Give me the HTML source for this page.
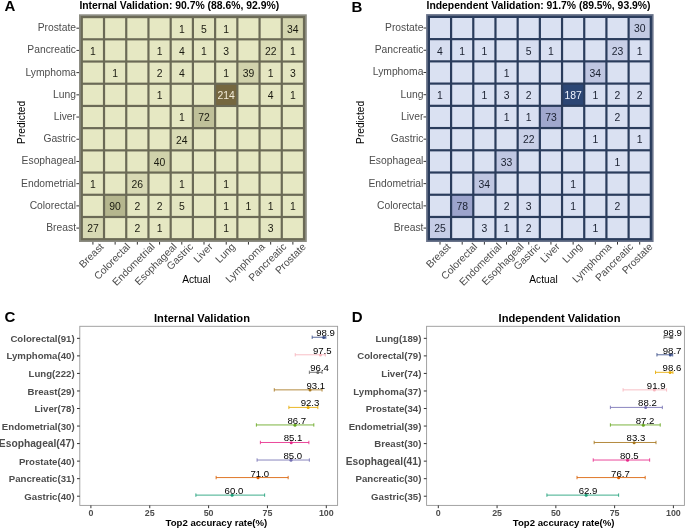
<!DOCTYPE html>
<html lang="en"><head><meta charset="utf-8"><title>Validation figure</title>
<style>
html,body{margin:0;padding:0;background:#fff;}
body{width:685px;height:528px;overflow:hidden;}
svg{display:block;font-family:'Liberation Sans', Arial, Helvetica, sans-serif;}
</style></head><body>
<svg width="685" height="528" viewBox="0 0 685 528">
<rect width="685" height="528" fill="#fff"/>
<rect x="79.0" y="14.3" width="227.80" height="227.70" fill="#8c8c82"/>
<rect x="80.70" y="16.00" width="224.40" height="224.30" fill="#6b6a56"/>
<rect x="82.90" y="18.20" width="20.02" height="20.01" fill="#e6e8c3"/>
<rect x="105.12" y="18.20" width="20.02" height="20.01" fill="#e6e8c3"/>
<rect x="127.34" y="18.20" width="20.02" height="20.01" fill="#e6e8c3"/>
<rect x="149.56" y="18.20" width="20.02" height="20.01" fill="#e6e8c3"/>
<rect x="171.78" y="18.20" width="20.02" height="20.01" fill="#e5e7c2"/>
<text x="181.79" y="32.50" font-size="10.4" text-anchor="middle" fill="#1a1a10">1</text>
<rect x="194.00" y="18.20" width="20.02" height="20.01" fill="#e3e5c0"/>
<text x="204.01" y="32.50" font-size="10.4" text-anchor="middle" fill="#1a1a10">5</text>
<rect x="216.22" y="18.20" width="20.02" height="20.01" fill="#e5e7c2"/>
<text x="226.23" y="32.50" font-size="10.4" text-anchor="middle" fill="#1a1a10">1</text>
<rect x="238.44" y="18.20" width="20.02" height="20.01" fill="#e6e8c3"/>
<rect x="260.66" y="18.20" width="20.02" height="20.01" fill="#e6e8c3"/>
<rect x="282.88" y="18.20" width="20.02" height="20.01" fill="#d4d5af"/>
<text x="292.89" y="32.50" font-size="10.4" text-anchor="middle" fill="#1a1a10">34</text>
<rect x="82.90" y="40.41" width="20.02" height="20.01" fill="#e5e7c2"/>
<text x="92.91" y="54.71" font-size="10.4" text-anchor="middle" fill="#1a1a10">1</text>
<rect x="105.12" y="40.41" width="20.02" height="20.01" fill="#e6e8c3"/>
<rect x="127.34" y="40.41" width="20.02" height="20.01" fill="#e6e8c3"/>
<rect x="149.56" y="40.41" width="20.02" height="20.01" fill="#e5e7c2"/>
<text x="159.57" y="54.71" font-size="10.4" text-anchor="middle" fill="#1a1a10">1</text>
<rect x="171.78" y="40.41" width="20.02" height="20.01" fill="#e4e6c1"/>
<text x="181.79" y="54.71" font-size="10.4" text-anchor="middle" fill="#1a1a10">4</text>
<rect x="194.00" y="40.41" width="20.02" height="20.01" fill="#e5e7c2"/>
<text x="204.01" y="54.71" font-size="10.4" text-anchor="middle" fill="#1a1a10">1</text>
<rect x="216.22" y="40.41" width="20.02" height="20.01" fill="#e4e6c1"/>
<text x="226.23" y="54.71" font-size="10.4" text-anchor="middle" fill="#1a1a10">3</text>
<rect x="238.44" y="40.41" width="20.02" height="20.01" fill="#e6e8c3"/>
<rect x="260.66" y="40.41" width="20.02" height="20.01" fill="#dadcb6"/>
<text x="270.67" y="54.71" font-size="10.4" text-anchor="middle" fill="#1a1a10">22</text>
<rect x="282.88" y="40.41" width="20.02" height="20.01" fill="#e5e7c2"/>
<text x="292.89" y="54.71" font-size="10.4" text-anchor="middle" fill="#1a1a10">1</text>
<rect x="82.90" y="62.62" width="20.02" height="20.01" fill="#e6e8c3"/>
<rect x="105.12" y="62.62" width="20.02" height="20.01" fill="#e5e7c2"/>
<text x="115.13" y="76.92" font-size="10.4" text-anchor="middle" fill="#1a1a10">1</text>
<rect x="127.34" y="62.62" width="20.02" height="20.01" fill="#e6e8c3"/>
<rect x="149.56" y="62.62" width="20.02" height="20.01" fill="#e5e7c2"/>
<text x="159.57" y="76.92" font-size="10.4" text-anchor="middle" fill="#1a1a10">2</text>
<rect x="171.78" y="62.62" width="20.02" height="20.01" fill="#e4e6c1"/>
<text x="181.79" y="76.92" font-size="10.4" text-anchor="middle" fill="#1a1a10">4</text>
<rect x="194.00" y="62.62" width="20.02" height="20.01" fill="#e6e8c3"/>
<rect x="216.22" y="62.62" width="20.02" height="20.01" fill="#e5e7c2"/>
<text x="226.23" y="76.92" font-size="10.4" text-anchor="middle" fill="#1a1a10">1</text>
<rect x="238.44" y="62.62" width="20.02" height="20.01" fill="#d1d2ac"/>
<text x="248.45" y="76.92" font-size="10.4" text-anchor="middle" fill="#1a1a10">39</text>
<rect x="260.66" y="62.62" width="20.02" height="20.01" fill="#e5e7c2"/>
<text x="270.67" y="76.92" font-size="10.4" text-anchor="middle" fill="#1a1a10">1</text>
<rect x="282.88" y="62.62" width="20.02" height="20.01" fill="#e4e6c1"/>
<text x="292.89" y="76.92" font-size="10.4" text-anchor="middle" fill="#1a1a10">3</text>
<rect x="82.90" y="84.83" width="20.02" height="20.01" fill="#e6e8c3"/>
<rect x="105.12" y="84.83" width="20.02" height="20.01" fill="#e6e8c3"/>
<rect x="127.34" y="84.83" width="20.02" height="20.01" fill="#e6e8c3"/>
<rect x="149.56" y="84.83" width="20.02" height="20.01" fill="#e5e7c2"/>
<text x="159.57" y="99.13" font-size="10.4" text-anchor="middle" fill="#1a1a10">1</text>
<rect x="171.78" y="84.83" width="20.02" height="20.01" fill="#e6e8c3"/>
<rect x="194.00" y="84.83" width="20.02" height="20.01" fill="#e6e8c3"/>
<rect x="216.22" y="84.83" width="20.02" height="20.01" fill="#75673f"/>
<text x="226.23" y="99.13" font-size="10.4" text-anchor="middle" fill="#f2ecd8">214</text>
<rect x="238.44" y="84.83" width="20.02" height="20.01" fill="#e6e8c3"/>
<rect x="260.66" y="84.83" width="20.02" height="20.01" fill="#e4e6c1"/>
<text x="270.67" y="99.13" font-size="10.4" text-anchor="middle" fill="#1a1a10">4</text>
<rect x="282.88" y="84.83" width="20.02" height="20.01" fill="#e5e7c2"/>
<text x="292.89" y="99.13" font-size="10.4" text-anchor="middle" fill="#1a1a10">1</text>
<rect x="82.90" y="107.04" width="20.02" height="20.01" fill="#e6e8c3"/>
<rect x="105.12" y="107.04" width="20.02" height="20.01" fill="#e6e8c3"/>
<rect x="127.34" y="107.04" width="20.02" height="20.01" fill="#e6e8c3"/>
<rect x="149.56" y="107.04" width="20.02" height="20.01" fill="#e6e8c3"/>
<rect x="171.78" y="107.04" width="20.02" height="20.01" fill="#e5e7c2"/>
<text x="181.79" y="121.34" font-size="10.4" text-anchor="middle" fill="#1a1a10">1</text>
<rect x="194.00" y="107.04" width="20.02" height="20.01" fill="#bfc099"/>
<text x="204.01" y="121.34" font-size="10.4" text-anchor="middle" fill="#1a1a10">72</text>
<rect x="216.22" y="107.04" width="20.02" height="20.01" fill="#e6e8c3"/>
<rect x="238.44" y="107.04" width="20.02" height="20.01" fill="#e6e8c3"/>
<rect x="260.66" y="107.04" width="20.02" height="20.01" fill="#e6e8c3"/>
<rect x="282.88" y="107.04" width="20.02" height="20.01" fill="#e6e8c3"/>
<rect x="82.90" y="129.25" width="20.02" height="20.01" fill="#e6e8c3"/>
<rect x="105.12" y="129.25" width="20.02" height="20.01" fill="#e6e8c3"/>
<rect x="127.34" y="129.25" width="20.02" height="20.01" fill="#e6e8c3"/>
<rect x="149.56" y="129.25" width="20.02" height="20.01" fill="#e6e8c3"/>
<rect x="171.78" y="129.25" width="20.02" height="20.01" fill="#d9dbb5"/>
<text x="181.79" y="143.56" font-size="10.4" text-anchor="middle" fill="#1a1a10">24</text>
<rect x="194.00" y="129.25" width="20.02" height="20.01" fill="#e6e8c3"/>
<rect x="216.22" y="129.25" width="20.02" height="20.01" fill="#e6e8c3"/>
<rect x="238.44" y="129.25" width="20.02" height="20.01" fill="#e6e8c3"/>
<rect x="260.66" y="129.25" width="20.02" height="20.01" fill="#e6e8c3"/>
<rect x="282.88" y="129.25" width="20.02" height="20.01" fill="#e6e8c3"/>
<rect x="82.90" y="151.46" width="20.02" height="20.01" fill="#e6e8c3"/>
<rect x="105.12" y="151.46" width="20.02" height="20.01" fill="#e6e8c3"/>
<rect x="127.34" y="151.46" width="20.02" height="20.01" fill="#e6e8c3"/>
<rect x="149.56" y="151.46" width="20.02" height="20.01" fill="#d0d2ab"/>
<text x="159.57" y="165.76" font-size="10.4" text-anchor="middle" fill="#1a1a10">40</text>
<rect x="171.78" y="151.46" width="20.02" height="20.01" fill="#e6e8c3"/>
<rect x="194.00" y="151.46" width="20.02" height="20.01" fill="#e6e8c3"/>
<rect x="216.22" y="151.46" width="20.02" height="20.01" fill="#e6e8c3"/>
<rect x="238.44" y="151.46" width="20.02" height="20.01" fill="#e6e8c3"/>
<rect x="260.66" y="151.46" width="20.02" height="20.01" fill="#e6e8c3"/>
<rect x="282.88" y="151.46" width="20.02" height="20.01" fill="#e6e8c3"/>
<rect x="82.90" y="173.67" width="20.02" height="20.01" fill="#e5e7c2"/>
<text x="92.91" y="187.97" font-size="10.4" text-anchor="middle" fill="#1a1a10">1</text>
<rect x="105.12" y="173.67" width="20.02" height="20.01" fill="#e6e8c3"/>
<rect x="127.34" y="173.67" width="20.02" height="20.01" fill="#d8d9b4"/>
<text x="137.35" y="187.97" font-size="10.4" text-anchor="middle" fill="#1a1a10">26</text>
<rect x="149.56" y="173.67" width="20.02" height="20.01" fill="#e6e8c3"/>
<rect x="171.78" y="173.67" width="20.02" height="20.01" fill="#e5e7c2"/>
<text x="181.79" y="187.97" font-size="10.4" text-anchor="middle" fill="#1a1a10">1</text>
<rect x="194.00" y="173.67" width="20.02" height="20.01" fill="#e6e8c3"/>
<rect x="216.22" y="173.67" width="20.02" height="20.01" fill="#e5e7c2"/>
<text x="226.23" y="187.97" font-size="10.4" text-anchor="middle" fill="#1a1a10">1</text>
<rect x="238.44" y="173.67" width="20.02" height="20.01" fill="#e6e8c3"/>
<rect x="260.66" y="173.67" width="20.02" height="20.01" fill="#e6e8c3"/>
<rect x="282.88" y="173.67" width="20.02" height="20.01" fill="#e6e8c3"/>
<rect x="82.90" y="195.88" width="20.02" height="20.01" fill="#e6e8c3"/>
<rect x="105.12" y="195.88" width="20.02" height="20.01" fill="#b5b68e"/>
<text x="115.13" y="210.19" font-size="10.4" text-anchor="middle" fill="#1a1a10">90</text>
<rect x="127.34" y="195.88" width="20.02" height="20.01" fill="#e5e7c2"/>
<text x="137.35" y="210.19" font-size="10.4" text-anchor="middle" fill="#1a1a10">2</text>
<rect x="149.56" y="195.88" width="20.02" height="20.01" fill="#e5e7c2"/>
<text x="159.57" y="210.19" font-size="10.4" text-anchor="middle" fill="#1a1a10">2</text>
<rect x="171.78" y="195.88" width="20.02" height="20.01" fill="#e3e5c0"/>
<text x="181.79" y="210.19" font-size="10.4" text-anchor="middle" fill="#1a1a10">5</text>
<rect x="194.00" y="195.88" width="20.02" height="20.01" fill="#e6e8c3"/>
<rect x="216.22" y="195.88" width="20.02" height="20.01" fill="#e5e7c2"/>
<text x="226.23" y="210.19" font-size="10.4" text-anchor="middle" fill="#1a1a10">1</text>
<rect x="238.44" y="195.88" width="20.02" height="20.01" fill="#e5e7c2"/>
<text x="248.45" y="210.19" font-size="10.4" text-anchor="middle" fill="#1a1a10">1</text>
<rect x="260.66" y="195.88" width="20.02" height="20.01" fill="#e5e7c2"/>
<text x="270.67" y="210.19" font-size="10.4" text-anchor="middle" fill="#1a1a10">1</text>
<rect x="282.88" y="195.88" width="20.02" height="20.01" fill="#e5e7c2"/>
<text x="292.89" y="210.19" font-size="10.4" text-anchor="middle" fill="#1a1a10">1</text>
<rect x="82.90" y="218.09" width="20.02" height="20.01" fill="#d7d9b3"/>
<text x="92.91" y="232.40" font-size="10.4" text-anchor="middle" fill="#1a1a10">27</text>
<rect x="105.12" y="218.09" width="20.02" height="20.01" fill="#e6e8c3"/>
<rect x="127.34" y="218.09" width="20.02" height="20.01" fill="#e5e7c2"/>
<text x="137.35" y="232.40" font-size="10.4" text-anchor="middle" fill="#1a1a10">2</text>
<rect x="149.56" y="218.09" width="20.02" height="20.01" fill="#e5e7c2"/>
<text x="159.57" y="232.40" font-size="10.4" text-anchor="middle" fill="#1a1a10">1</text>
<rect x="171.78" y="218.09" width="20.02" height="20.01" fill="#e6e8c3"/>
<rect x="194.00" y="218.09" width="20.02" height="20.01" fill="#e6e8c3"/>
<rect x="216.22" y="218.09" width="20.02" height="20.01" fill="#e5e7c2"/>
<text x="226.23" y="232.40" font-size="10.4" text-anchor="middle" fill="#1a1a10">1</text>
<rect x="238.44" y="218.09" width="20.02" height="20.01" fill="#e6e8c3"/>
<rect x="260.66" y="218.09" width="20.02" height="20.01" fill="#e4e6c1"/>
<text x="270.67" y="232.40" font-size="10.4" text-anchor="middle" fill="#1a1a10">3</text>
<rect x="282.88" y="218.09" width="20.02" height="20.01" fill="#e6e8c3"/>
<line x1="76.40" y1="28.20" x2="79.00" y2="28.20" stroke="#333" stroke-width="1"/>
<text x="76.00" y="31.10" font-size="10.3" text-anchor="end" fill="#4d4d4d">Prostate</text>
<line x1="76.40" y1="50.41" x2="79.00" y2="50.41" stroke="#333" stroke-width="1"/>
<text x="76.00" y="53.31" font-size="10.3" text-anchor="end" fill="#4d4d4d">Pancreatic</text>
<line x1="76.40" y1="72.62" x2="79.00" y2="72.62" stroke="#333" stroke-width="1"/>
<text x="76.00" y="75.53" font-size="10.3" text-anchor="end" fill="#4d4d4d">Lymphoma</text>
<line x1="76.40" y1="94.83" x2="79.00" y2="94.83" stroke="#333" stroke-width="1"/>
<text x="76.00" y="97.73" font-size="10.3" text-anchor="end" fill="#4d4d4d">Lung</text>
<line x1="76.40" y1="117.05" x2="79.00" y2="117.05" stroke="#333" stroke-width="1"/>
<text x="76.00" y="119.95" font-size="10.3" text-anchor="end" fill="#4d4d4d">Liver</text>
<line x1="76.40" y1="139.25" x2="79.00" y2="139.25" stroke="#333" stroke-width="1"/>
<text x="76.00" y="142.16" font-size="10.3" text-anchor="end" fill="#4d4d4d">Gastric</text>
<line x1="76.40" y1="161.46" x2="79.00" y2="161.46" stroke="#333" stroke-width="1"/>
<text x="76.00" y="164.36" font-size="10.3" text-anchor="end" fill="#4d4d4d">Esophageal</text>
<line x1="76.40" y1="183.67" x2="79.00" y2="183.67" stroke="#333" stroke-width="1"/>
<text x="76.00" y="186.57" font-size="10.3" text-anchor="end" fill="#4d4d4d">Endometrial</text>
<line x1="76.40" y1="205.88" x2="79.00" y2="205.88" stroke="#333" stroke-width="1"/>
<text x="76.00" y="208.78" font-size="10.3" text-anchor="end" fill="#4d4d4d">Colorectal</text>
<line x1="76.40" y1="228.09" x2="79.00" y2="228.09" stroke="#333" stroke-width="1"/>
<text x="76.00" y="231.00" font-size="10.3" text-anchor="end" fill="#4d4d4d">Breast</text>
<line x1="92.91" y1="242.00" x2="92.91" y2="244.60" stroke="#333" stroke-width="1"/>
<text transform="translate(101.90,245.00) rotate(-45)" x="0" y="3.4" font-size="10.3" text-anchor="end" fill="#4d4d4d">Breast</text>
<line x1="115.13" y1="242.00" x2="115.13" y2="244.60" stroke="#333" stroke-width="1"/>
<text transform="translate(128.52,245.00) rotate(-45)" x="0" y="3.4" font-size="10.3" text-anchor="end" fill="#4d4d4d">Colorectal</text>
<line x1="137.35" y1="242.00" x2="137.35" y2="244.60" stroke="#333" stroke-width="1"/>
<text transform="translate(153.01,245.00) rotate(-45)" x="0" y="3.4" font-size="10.3" text-anchor="end" fill="#4d4d4d">Endometrial</text>
<line x1="159.57" y1="242.00" x2="159.57" y2="244.60" stroke="#333" stroke-width="1"/>
<text transform="translate(175.08,245.00) rotate(-45)" x="0" y="3.4" font-size="10.3" text-anchor="end" fill="#4d4d4d">Esophageal</text>
<line x1="181.79" y1="242.00" x2="181.79" y2="244.60" stroke="#333" stroke-width="1"/>
<text transform="translate(191.53,245.00) rotate(-45)" x="0" y="3.4" font-size="10.3" text-anchor="end" fill="#4d4d4d">Gastric</text>
<line x1="204.01" y1="242.00" x2="204.01" y2="244.60" stroke="#333" stroke-width="1"/>
<text transform="translate(211.02,245.00) rotate(-45)" x="0" y="3.4" font-size="10.3" text-anchor="end" fill="#4d4d4d">Liver</text>
<line x1="226.23" y1="242.00" x2="226.23" y2="244.60" stroke="#333" stroke-width="1"/>
<text transform="translate(233.40,245.00) rotate(-45)" x="0" y="3.4" font-size="10.3" text-anchor="end" fill="#4d4d4d">Lung</text>
<line x1="248.45" y1="242.00" x2="248.45" y2="244.60" stroke="#333" stroke-width="1"/>
<text transform="translate(263.05,245.00) rotate(-45)" x="0" y="3.4" font-size="10.3" text-anchor="end" fill="#4d4d4d">Lymphoma</text>
<line x1="270.67" y1="242.00" x2="270.67" y2="244.60" stroke="#333" stroke-width="1"/>
<text transform="translate(284.66,245.00) rotate(-45)" x="0" y="3.4" font-size="10.3" text-anchor="end" fill="#4d4d4d">Pancreatic</text>
<line x1="292.89" y1="242.00" x2="292.89" y2="244.60" stroke="#333" stroke-width="1"/>
<text transform="translate(304.15,245.00) rotate(-45)" x="0" y="3.4" font-size="10.3" text-anchor="end" fill="#4d4d4d">Prostate</text>
<text x="79.4" y="8.9" font-size="10.4" font-weight="bold" fill="#000">Internal Validation: 90.7% (88.6%, 92.9%)</text>
<text x="4.6" y="10.6" font-size="15" font-weight="bold" fill="#000">A</text>
<text transform="translate(24.9,122.4) rotate(-90)" font-size="10.2" text-anchor="middle" fill="#000">Predicted</text>
<text x="196.3" y="282.9" font-size="10.2" text-anchor="middle" fill="#000">Actual</text>
<rect x="426.1" y="14.1" width="227.50" height="227.90" fill="#69738a"/>
<rect x="427.80" y="15.80" width="224.10" height="224.50" fill="#2a3c5c"/>
<rect x="430.00" y="18.00" width="19.99" height="20.03" fill="#dae1f2"/>
<rect x="452.19" y="18.00" width="19.99" height="20.03" fill="#dae1f2"/>
<rect x="474.38" y="18.00" width="19.99" height="20.03" fill="#dae1f2"/>
<rect x="496.57" y="18.00" width="19.99" height="20.03" fill="#dae1f2"/>
<rect x="518.76" y="18.00" width="19.99" height="20.03" fill="#dae1f2"/>
<rect x="540.95" y="18.00" width="19.99" height="20.03" fill="#dae1f2"/>
<rect x="563.14" y="18.00" width="19.99" height="20.03" fill="#dae1f2"/>
<rect x="585.33" y="18.00" width="19.99" height="20.03" fill="#dae1f2"/>
<rect x="607.52" y="18.00" width="19.99" height="20.03" fill="#dae1f2"/>
<rect x="629.71" y="18.00" width="19.99" height="20.03" fill="#c2cae3"/>
<text x="639.71" y="32.31" font-size="10.4" text-anchor="middle" fill="#1a2030">30</text>
<rect x="430.00" y="40.23" width="19.99" height="20.03" fill="#d7def0"/>
<text x="440.00" y="54.55" font-size="10.4" text-anchor="middle" fill="#1a2030">4</text>
<rect x="452.19" y="40.23" width="19.99" height="20.03" fill="#d9e0f2"/>
<text x="462.19" y="54.55" font-size="10.4" text-anchor="middle" fill="#1a2030">1</text>
<rect x="474.38" y="40.23" width="19.99" height="20.03" fill="#d9e0f2"/>
<text x="484.38" y="54.55" font-size="10.4" text-anchor="middle" fill="#1a2030">1</text>
<rect x="496.57" y="40.23" width="19.99" height="20.03" fill="#dae1f2"/>
<rect x="518.76" y="40.23" width="19.99" height="20.03" fill="#d6ddf0"/>
<text x="528.75" y="54.55" font-size="10.4" text-anchor="middle" fill="#1a2030">5</text>
<rect x="540.95" y="40.23" width="19.99" height="20.03" fill="#d9e0f2"/>
<text x="550.95" y="54.55" font-size="10.4" text-anchor="middle" fill="#1a2030">1</text>
<rect x="563.14" y="40.23" width="19.99" height="20.03" fill="#dae1f2"/>
<rect x="585.33" y="40.23" width="19.99" height="20.03" fill="#dae1f2"/>
<rect x="607.52" y="40.23" width="19.99" height="20.03" fill="#c8cfe7"/>
<text x="617.51" y="54.55" font-size="10.4" text-anchor="middle" fill="#1a2030">23</text>
<rect x="629.71" y="40.23" width="19.99" height="20.03" fill="#d9e0f2"/>
<text x="639.71" y="54.55" font-size="10.4" text-anchor="middle" fill="#1a2030">1</text>
<rect x="430.00" y="62.46" width="19.99" height="20.03" fill="#dae1f2"/>
<rect x="452.19" y="62.46" width="19.99" height="20.03" fill="#dae1f2"/>
<rect x="474.38" y="62.46" width="19.99" height="20.03" fill="#dae1f2"/>
<rect x="496.57" y="62.46" width="19.99" height="20.03" fill="#d9e0f2"/>
<text x="506.56" y="76.77" font-size="10.4" text-anchor="middle" fill="#1a2030">1</text>
<rect x="518.76" y="62.46" width="19.99" height="20.03" fill="#dae1f2"/>
<rect x="540.95" y="62.46" width="19.99" height="20.03" fill="#dae1f2"/>
<rect x="563.14" y="62.46" width="19.99" height="20.03" fill="#dae1f2"/>
<rect x="585.33" y="62.46" width="19.99" height="20.03" fill="#bfc6e1"/>
<text x="595.32" y="76.77" font-size="10.4" text-anchor="middle" fill="#1a2030">34</text>
<rect x="607.52" y="62.46" width="19.99" height="20.03" fill="#dae1f2"/>
<rect x="629.71" y="62.46" width="19.99" height="20.03" fill="#dae1f2"/>
<rect x="430.00" y="84.69" width="19.99" height="20.03" fill="#d9e0f2"/>
<text x="440.00" y="99.00" font-size="10.4" text-anchor="middle" fill="#1a2030">1</text>
<rect x="452.19" y="84.69" width="19.99" height="20.03" fill="#dae1f2"/>
<rect x="474.38" y="84.69" width="19.99" height="20.03" fill="#d9e0f2"/>
<text x="484.38" y="99.00" font-size="10.4" text-anchor="middle" fill="#1a2030">1</text>
<rect x="496.57" y="84.69" width="19.99" height="20.03" fill="#d8dff1"/>
<text x="506.56" y="99.00" font-size="10.4" text-anchor="middle" fill="#1a2030">3</text>
<rect x="518.76" y="84.69" width="19.99" height="20.03" fill="#d8dff1"/>
<text x="528.75" y="99.00" font-size="10.4" text-anchor="middle" fill="#1a2030">2</text>
<rect x="540.95" y="84.69" width="19.99" height="20.03" fill="#dae1f2"/>
<rect x="563.14" y="84.69" width="19.99" height="20.03" fill="#2c4674"/>
<text x="573.13" y="99.00" font-size="10.4" text-anchor="middle" fill="#f0f4ff">187</text>
<rect x="585.33" y="84.69" width="19.99" height="20.03" fill="#d9e0f2"/>
<text x="595.32" y="99.00" font-size="10.4" text-anchor="middle" fill="#1a2030">1</text>
<rect x="607.52" y="84.69" width="19.99" height="20.03" fill="#d8dff1"/>
<text x="617.51" y="99.00" font-size="10.4" text-anchor="middle" fill="#1a2030">2</text>
<rect x="629.71" y="84.69" width="19.99" height="20.03" fill="#d8dff1"/>
<text x="639.71" y="99.00" font-size="10.4" text-anchor="middle" fill="#1a2030">2</text>
<rect x="430.00" y="106.92" width="19.99" height="20.03" fill="#dae1f2"/>
<rect x="452.19" y="106.92" width="19.99" height="20.03" fill="#dae1f2"/>
<rect x="474.38" y="106.92" width="19.99" height="20.03" fill="#dae1f2"/>
<rect x="496.57" y="106.92" width="19.99" height="20.03" fill="#d9e0f2"/>
<text x="506.56" y="121.23" font-size="10.4" text-anchor="middle" fill="#1a2030">1</text>
<rect x="518.76" y="106.92" width="19.99" height="20.03" fill="#d9e0f2"/>
<text x="528.75" y="121.23" font-size="10.4" text-anchor="middle" fill="#1a2030">1</text>
<rect x="540.95" y="106.92" width="19.99" height="20.03" fill="#a0a8ce"/>
<text x="550.95" y="121.23" font-size="10.4" text-anchor="middle" fill="#1a2030">73</text>
<rect x="563.14" y="106.92" width="19.99" height="20.03" fill="#dae1f2"/>
<rect x="585.33" y="106.92" width="19.99" height="20.03" fill="#dae1f2"/>
<rect x="607.52" y="106.92" width="19.99" height="20.03" fill="#d8dff1"/>
<text x="617.51" y="121.23" font-size="10.4" text-anchor="middle" fill="#1a2030">2</text>
<rect x="629.71" y="106.92" width="19.99" height="20.03" fill="#dae1f2"/>
<rect x="430.00" y="129.15" width="19.99" height="20.03" fill="#dae1f2"/>
<rect x="452.19" y="129.15" width="19.99" height="20.03" fill="#dae1f2"/>
<rect x="474.38" y="129.15" width="19.99" height="20.03" fill="#dae1f2"/>
<rect x="496.57" y="129.15" width="19.99" height="20.03" fill="#dae1f2"/>
<rect x="518.76" y="129.15" width="19.99" height="20.03" fill="#c9d0e7"/>
<text x="528.75" y="143.47" font-size="10.4" text-anchor="middle" fill="#1a2030">22</text>
<rect x="540.95" y="129.15" width="19.99" height="20.03" fill="#dae1f2"/>
<rect x="563.14" y="129.15" width="19.99" height="20.03" fill="#dae1f2"/>
<rect x="585.33" y="129.15" width="19.99" height="20.03" fill="#d9e0f2"/>
<text x="595.32" y="143.47" font-size="10.4" text-anchor="middle" fill="#1a2030">1</text>
<rect x="607.52" y="129.15" width="19.99" height="20.03" fill="#dae1f2"/>
<rect x="629.71" y="129.15" width="19.99" height="20.03" fill="#d9e0f2"/>
<text x="639.71" y="143.47" font-size="10.4" text-anchor="middle" fill="#1a2030">1</text>
<rect x="430.00" y="151.38" width="19.99" height="20.03" fill="#dae1f2"/>
<rect x="452.19" y="151.38" width="19.99" height="20.03" fill="#dae1f2"/>
<rect x="474.38" y="151.38" width="19.99" height="20.03" fill="#dae1f2"/>
<rect x="496.57" y="151.38" width="19.99" height="20.03" fill="#c0c7e2"/>
<text x="506.56" y="165.69" font-size="10.4" text-anchor="middle" fill="#1a2030">33</text>
<rect x="518.76" y="151.38" width="19.99" height="20.03" fill="#dae1f2"/>
<rect x="540.95" y="151.38" width="19.99" height="20.03" fill="#dae1f2"/>
<rect x="563.14" y="151.38" width="19.99" height="20.03" fill="#dae1f2"/>
<rect x="585.33" y="151.38" width="19.99" height="20.03" fill="#dae1f2"/>
<rect x="607.52" y="151.38" width="19.99" height="20.03" fill="#d9e0f2"/>
<text x="617.51" y="165.69" font-size="10.4" text-anchor="middle" fill="#1a2030">1</text>
<rect x="629.71" y="151.38" width="19.99" height="20.03" fill="#dae1f2"/>
<rect x="430.00" y="173.61" width="19.99" height="20.03" fill="#dae1f2"/>
<rect x="452.19" y="173.61" width="19.99" height="20.03" fill="#dae1f2"/>
<rect x="474.38" y="173.61" width="19.99" height="20.03" fill="#bfc6e1"/>
<text x="484.38" y="187.93" font-size="10.4" text-anchor="middle" fill="#1a2030">34</text>
<rect x="496.57" y="173.61" width="19.99" height="20.03" fill="#dae1f2"/>
<rect x="518.76" y="173.61" width="19.99" height="20.03" fill="#dae1f2"/>
<rect x="540.95" y="173.61" width="19.99" height="20.03" fill="#dae1f2"/>
<rect x="563.14" y="173.61" width="19.99" height="20.03" fill="#d9e0f2"/>
<text x="573.13" y="187.93" font-size="10.4" text-anchor="middle" fill="#1a2030">1</text>
<rect x="585.33" y="173.61" width="19.99" height="20.03" fill="#dae1f2"/>
<rect x="607.52" y="173.61" width="19.99" height="20.03" fill="#dae1f2"/>
<rect x="629.71" y="173.61" width="19.99" height="20.03" fill="#dae1f2"/>
<rect x="430.00" y="195.84" width="19.99" height="20.03" fill="#dae1f2"/>
<rect x="452.19" y="195.84" width="19.99" height="20.03" fill="#9ca4cc"/>
<text x="462.19" y="210.16" font-size="10.4" text-anchor="middle" fill="#1a2030">78</text>
<rect x="474.38" y="195.84" width="19.99" height="20.03" fill="#dae1f2"/>
<rect x="496.57" y="195.84" width="19.99" height="20.03" fill="#d8dff1"/>
<text x="506.56" y="210.16" font-size="10.4" text-anchor="middle" fill="#1a2030">2</text>
<rect x="518.76" y="195.84" width="19.99" height="20.03" fill="#d8dff1"/>
<text x="528.75" y="210.16" font-size="10.4" text-anchor="middle" fill="#1a2030">3</text>
<rect x="540.95" y="195.84" width="19.99" height="20.03" fill="#dae1f2"/>
<rect x="563.14" y="195.84" width="19.99" height="20.03" fill="#d9e0f2"/>
<text x="573.13" y="210.16" font-size="10.4" text-anchor="middle" fill="#1a2030">1</text>
<rect x="585.33" y="195.84" width="19.99" height="20.03" fill="#dae1f2"/>
<rect x="607.52" y="195.84" width="19.99" height="20.03" fill="#d8dff1"/>
<text x="617.51" y="210.16" font-size="10.4" text-anchor="middle" fill="#1a2030">2</text>
<rect x="629.71" y="195.84" width="19.99" height="20.03" fill="#dae1f2"/>
<rect x="430.00" y="218.07" width="19.99" height="20.03" fill="#c6cde6"/>
<text x="440.00" y="232.38" font-size="10.4" text-anchor="middle" fill="#1a2030">25</text>
<rect x="452.19" y="218.07" width="19.99" height="20.03" fill="#dae1f2"/>
<rect x="474.38" y="218.07" width="19.99" height="20.03" fill="#d8dff1"/>
<text x="484.38" y="232.38" font-size="10.4" text-anchor="middle" fill="#1a2030">3</text>
<rect x="496.57" y="218.07" width="19.99" height="20.03" fill="#d9e0f2"/>
<text x="506.56" y="232.38" font-size="10.4" text-anchor="middle" fill="#1a2030">1</text>
<rect x="518.76" y="218.07" width="19.99" height="20.03" fill="#d8dff1"/>
<text x="528.75" y="232.38" font-size="10.4" text-anchor="middle" fill="#1a2030">2</text>
<rect x="540.95" y="218.07" width="19.99" height="20.03" fill="#dae1f2"/>
<rect x="563.14" y="218.07" width="19.99" height="20.03" fill="#dae1f2"/>
<rect x="585.33" y="218.07" width="19.99" height="20.03" fill="#d9e0f2"/>
<text x="595.32" y="232.38" font-size="10.4" text-anchor="middle" fill="#1a2030">1</text>
<rect x="607.52" y="218.07" width="19.99" height="20.03" fill="#dae1f2"/>
<rect x="629.71" y="218.07" width="19.99" height="20.03" fill="#dae1f2"/>
<line x1="423.50" y1="28.02" x2="426.10" y2="28.02" stroke="#333" stroke-width="1"/>
<text x="423.40" y="30.91" font-size="10.3" text-anchor="end" fill="#4d4d4d">Prostate</text>
<line x1="423.50" y1="50.25" x2="426.10" y2="50.25" stroke="#333" stroke-width="1"/>
<text x="423.40" y="53.15" font-size="10.3" text-anchor="end" fill="#4d4d4d">Pancreatic</text>
<line x1="423.50" y1="72.47" x2="426.10" y2="72.47" stroke="#333" stroke-width="1"/>
<text x="423.40" y="75.38" font-size="10.3" text-anchor="end" fill="#4d4d4d">Lymphoma</text>
<line x1="423.50" y1="94.70" x2="426.10" y2="94.70" stroke="#333" stroke-width="1"/>
<text x="423.40" y="97.61" font-size="10.3" text-anchor="end" fill="#4d4d4d">Lung</text>
<line x1="423.50" y1="116.94" x2="426.10" y2="116.94" stroke="#333" stroke-width="1"/>
<text x="423.40" y="119.84" font-size="10.3" text-anchor="end" fill="#4d4d4d">Liver</text>
<line x1="423.50" y1="139.17" x2="426.10" y2="139.17" stroke="#333" stroke-width="1"/>
<text x="423.40" y="142.07" font-size="10.3" text-anchor="end" fill="#4d4d4d">Gastric</text>
<line x1="423.50" y1="161.39" x2="426.10" y2="161.39" stroke="#333" stroke-width="1"/>
<text x="423.40" y="164.29" font-size="10.3" text-anchor="end" fill="#4d4d4d">Esophageal</text>
<line x1="423.50" y1="183.62" x2="426.10" y2="183.62" stroke="#333" stroke-width="1"/>
<text x="423.40" y="186.53" font-size="10.3" text-anchor="end" fill="#4d4d4d">Endometrial</text>
<line x1="423.50" y1="205.86" x2="426.10" y2="205.86" stroke="#333" stroke-width="1"/>
<text x="423.40" y="208.76" font-size="10.3" text-anchor="end" fill="#4d4d4d">Colorectal</text>
<line x1="423.50" y1="228.08" x2="426.10" y2="228.08" stroke="#333" stroke-width="1"/>
<text x="423.40" y="230.98" font-size="10.3" text-anchor="end" fill="#4d4d4d">Breast</text>
<line x1="440.00" y1="242.00" x2="440.00" y2="244.60" stroke="#333" stroke-width="1"/>
<text transform="translate(448.98,245.00) rotate(-45)" x="0" y="3.4" font-size="10.3" text-anchor="end" fill="#4d4d4d">Breast</text>
<line x1="462.19" y1="242.00" x2="462.19" y2="244.60" stroke="#333" stroke-width="1"/>
<text transform="translate(475.57,245.00) rotate(-45)" x="0" y="3.4" font-size="10.3" text-anchor="end" fill="#4d4d4d">Colorectal</text>
<line x1="484.38" y1="242.00" x2="484.38" y2="244.60" stroke="#333" stroke-width="1"/>
<text transform="translate(500.04,245.00) rotate(-45)" x="0" y="3.4" font-size="10.3" text-anchor="end" fill="#4d4d4d">Endometrial</text>
<line x1="506.56" y1="242.00" x2="506.56" y2="244.60" stroke="#333" stroke-width="1"/>
<text transform="translate(522.08,245.00) rotate(-45)" x="0" y="3.4" font-size="10.3" text-anchor="end" fill="#4d4d4d">Esophageal</text>
<line x1="528.75" y1="242.00" x2="528.75" y2="244.60" stroke="#333" stroke-width="1"/>
<text transform="translate(538.50,245.00) rotate(-45)" x="0" y="3.4" font-size="10.3" text-anchor="end" fill="#4d4d4d">Gastric</text>
<line x1="550.95" y1="242.00" x2="550.95" y2="244.60" stroke="#333" stroke-width="1"/>
<text transform="translate(557.96,245.00) rotate(-45)" x="0" y="3.4" font-size="10.3" text-anchor="end" fill="#4d4d4d">Liver</text>
<line x1="573.13" y1="242.00" x2="573.13" y2="244.60" stroke="#333" stroke-width="1"/>
<text transform="translate(580.31,245.00) rotate(-45)" x="0" y="3.4" font-size="10.3" text-anchor="end" fill="#4d4d4d">Lung</text>
<line x1="595.32" y1="242.00" x2="595.32" y2="244.60" stroke="#333" stroke-width="1"/>
<text transform="translate(609.93,245.00) rotate(-45)" x="0" y="3.4" font-size="10.3" text-anchor="end" fill="#4d4d4d">Lymphoma</text>
<line x1="617.51" y1="242.00" x2="617.51" y2="244.60" stroke="#333" stroke-width="1"/>
<text transform="translate(631.51,245.00) rotate(-45)" x="0" y="3.4" font-size="10.3" text-anchor="end" fill="#4d4d4d">Pancreatic</text>
<line x1="639.71" y1="242.00" x2="639.71" y2="244.60" stroke="#333" stroke-width="1"/>
<text transform="translate(650.97,245.00) rotate(-45)" x="0" y="3.4" font-size="10.3" text-anchor="end" fill="#4d4d4d">Prostate</text>
<text x="426.5" y="8.9" font-size="10.4" font-weight="bold" fill="#000">Independent Validation: 91.7% (89.5%, 93.9%)</text>
<text x="351.6" y="11.9" font-size="15" font-weight="bold" fill="#000">B</text>
<text transform="translate(364.3,122.4) rotate(-90)" font-size="10.2" text-anchor="middle" fill="#000">Predicted</text>
<text x="543.5" y="282.9" font-size="10.2" text-anchor="middle" fill="#000">Actual</text>
<rect x="79.8" y="326.3" width="257.80" height="179.10" fill="#fff" stroke="#999" stroke-width="0.9"/>
<line x1="77.00" y1="338.35" x2="79.80" y2="338.35" stroke="#333" stroke-width="1"/>
<text x="74.60" y="341.95" font-size="9.65" font-weight="bold" text-anchor="end" fill="#4d4d4d">Colorectal(91)</text>
<g stroke="#3B4F8A" stroke-width="0.85" fill="none"><line x1="312.18" y1="337.25" x2="325.83" y2="337.25"/><line x1="312.18" y1="335.55" x2="312.18" y2="338.95"/><line x1="325.83" y1="335.55" x2="325.83" y2="338.95"/></g>
<circle cx="323.71" cy="337.45" r="1.5" fill="#3B4F8A"/>
<text x="325.51" y="336.25" font-size="9.6" text-anchor="middle" fill="#000">98.9</text>
<line x1="77.00" y1="355.89" x2="79.80" y2="355.89" stroke="#333" stroke-width="1"/>
<text x="74.60" y="359.49" font-size="9.65" font-weight="bold" text-anchor="end" fill="#4d4d4d">Lymphoma(40)</text>
<g stroke="#F7B4BC" stroke-width="0.85" fill="none"><line x1="295.23" y1="354.79" x2="325.36" y2="354.79"/><line x1="295.23" y1="353.09" x2="295.23" y2="356.49"/><line x1="325.36" y1="353.09" x2="325.36" y2="356.49"/></g>
<circle cx="320.42" cy="354.99" r="1.5" fill="#F7B4BC"/>
<text x="322.22" y="353.79" font-size="9.6" text-anchor="middle" fill="#000">97.5</text>
<line x1="77.00" y1="373.43" x2="79.80" y2="373.43" stroke="#333" stroke-width="1"/>
<text x="74.60" y="377.03" font-size="9.65" font-weight="bold" text-anchor="end" fill="#4d4d4d">Lung(222)</text>
<g stroke="#666666" stroke-width="0.85" fill="none"><line x1="309.35" y1="372.33" x2="322.06" y2="372.33"/><line x1="309.35" y1="370.63" x2="309.35" y2="374.03"/><line x1="322.06" y1="370.63" x2="322.06" y2="374.03"/></g>
<circle cx="317.83" cy="372.53" r="1.5" fill="#666666"/>
<text x="319.63" y="371.33" font-size="9.6" text-anchor="middle" fill="#000">96.4</text>
<line x1="77.00" y1="390.97" x2="79.80" y2="390.97" stroke="#333" stroke-width="1"/>
<text x="74.60" y="394.57" font-size="9.65" font-weight="bold" text-anchor="end" fill="#4d4d4d">Breast(29)</text>
<g stroke="#A6761D" stroke-width="0.85" fill="none"><line x1="274.28" y1="389.87" x2="322.06" y2="389.87"/><line x1="274.28" y1="388.17" x2="274.28" y2="391.57"/><line x1="322.06" y1="388.17" x2="322.06" y2="391.57"/></g>
<circle cx="310.06" cy="390.07" r="1.5" fill="#A6761D"/>
<text x="315.86" y="388.87" font-size="9.6" text-anchor="middle" fill="#000">93.1</text>
<line x1="77.00" y1="408.51" x2="79.80" y2="408.51" stroke="#333" stroke-width="1"/>
<text x="74.60" y="412.11" font-size="9.65" font-weight="bold" text-anchor="end" fill="#4d4d4d">Liver(78)</text>
<g stroke="#E6AB02" stroke-width="0.85" fill="none"><line x1="288.87" y1="407.41" x2="317.83" y2="407.41"/><line x1="288.87" y1="405.71" x2="288.87" y2="409.11"/><line x1="317.83" y1="405.71" x2="317.83" y2="409.11"/></g>
<circle cx="308.17" cy="407.61" r="1.5" fill="#E6AB02"/>
<text x="309.97" y="406.41" font-size="9.6" text-anchor="middle" fill="#000">92.3</text>
<line x1="77.00" y1="426.05" x2="79.80" y2="426.05" stroke="#333" stroke-width="1"/>
<text x="74.60" y="429.65" font-size="9.65" font-weight="bold" text-anchor="end" fill="#4d4d4d">Endometrial(30)</text>
<g stroke="#66A61E" stroke-width="0.85" fill="none"><line x1="256.39" y1="424.95" x2="313.82" y2="424.95"/><line x1="256.39" y1="423.25" x2="256.39" y2="426.65"/><line x1="313.82" y1="423.25" x2="313.82" y2="426.65"/></g>
<circle cx="294.99" cy="425.15" r="1.5" fill="#66A61E"/>
<text x="296.79" y="423.95" font-size="9.6" text-anchor="middle" fill="#000">86.7</text>
<line x1="77.00" y1="443.59" x2="79.80" y2="443.59" stroke="#333" stroke-width="1"/>
<text x="74.60" y="447.39" font-size="10.25" font-weight="bold" text-anchor="end" fill="#4d4d4d">Esophageal(47)</text>
<g stroke="#E7298A" stroke-width="0.85" fill="none"><line x1="260.39" y1="442.49" x2="308.88" y2="442.49"/><line x1="260.39" y1="440.79" x2="260.39" y2="444.19"/><line x1="308.88" y1="440.79" x2="308.88" y2="444.19"/></g>
<circle cx="291.23" cy="442.69" r="1.5" fill="#E7298A"/>
<text x="293.03" y="441.49" font-size="9.6" text-anchor="middle" fill="#000">85.1</text>
<line x1="77.00" y1="461.13" x2="79.80" y2="461.13" stroke="#333" stroke-width="1"/>
<text x="74.60" y="464.73" font-size="9.65" font-weight="bold" text-anchor="end" fill="#4d4d4d">Prostate(40)</text>
<g stroke="#7570B3" stroke-width="0.85" fill="none"><line x1="257.09" y1="460.03" x2="309.35" y2="460.03"/><line x1="257.09" y1="458.33" x2="257.09" y2="461.73"/><line x1="309.35" y1="458.33" x2="309.35" y2="461.73"/></g>
<circle cx="290.99" cy="460.23" r="1.5" fill="#7570B3"/>
<text x="292.79" y="459.03" font-size="9.6" text-anchor="middle" fill="#000">85.0</text>
<line x1="77.00" y1="478.67" x2="79.80" y2="478.67" stroke="#333" stroke-width="1"/>
<text x="74.60" y="482.27" font-size="9.65" font-weight="bold" text-anchor="end" fill="#4d4d4d">Pancreatic(31)</text>
<g stroke="#D95F02" stroke-width="0.85" fill="none"><line x1="216.13" y1="477.57" x2="288.17" y2="477.57"/><line x1="216.13" y1="475.87" x2="216.13" y2="479.27"/><line x1="288.17" y1="475.87" x2="288.17" y2="479.27"/></g>
<circle cx="258.03" cy="477.77" r="1.5" fill="#D95F02"/>
<text x="259.83" y="476.57" font-size="9.6" text-anchor="middle" fill="#000">71.0</text>
<line x1="77.00" y1="496.21" x2="79.80" y2="496.21" stroke="#333" stroke-width="1"/>
<text x="74.60" y="499.81" font-size="9.65" font-weight="bold" text-anchor="end" fill="#4d4d4d">Gastric(40)</text>
<g stroke="#1B9E77" stroke-width="0.85" fill="none"><line x1="195.89" y1="495.11" x2="264.63" y2="495.11"/><line x1="195.89" y1="493.41" x2="195.89" y2="496.81"/><line x1="264.63" y1="493.41" x2="264.63" y2="496.81"/></g>
<circle cx="232.14" cy="495.31" r="1.5" fill="#1B9E77"/>
<text x="233.94" y="494.11" font-size="9.6" text-anchor="middle" fill="#000">60.0</text>
<line x1="90.90" y1="505.40" x2="90.90" y2="508.20" stroke="#333" stroke-width="1"/>
<text x="90.90" y="516.00" font-size="8.9" font-weight="bold" text-anchor="middle" fill="#4d4d4d">0</text>
<line x1="149.75" y1="505.40" x2="149.75" y2="508.20" stroke="#333" stroke-width="1"/>
<text x="149.75" y="516.00" font-size="8.9" font-weight="bold" text-anchor="middle" fill="#4d4d4d">25</text>
<line x1="208.60" y1="505.40" x2="208.60" y2="508.20" stroke="#333" stroke-width="1"/>
<text x="208.60" y="516.00" font-size="8.9" font-weight="bold" text-anchor="middle" fill="#4d4d4d">50</text>
<line x1="267.45" y1="505.40" x2="267.45" y2="508.20" stroke="#333" stroke-width="1"/>
<text x="267.45" y="516.00" font-size="8.9" font-weight="bold" text-anchor="middle" fill="#4d4d4d">75</text>
<line x1="326.30" y1="505.40" x2="326.30" y2="508.20" stroke="#333" stroke-width="1"/>
<text x="326.30" y="516.00" font-size="8.9" font-weight="bold" text-anchor="middle" fill="#4d4d4d">100</text>
<text x="202.0" y="322.2" font-size="11.15" font-weight="bold" text-anchor="middle" fill="#000">Internal Validation</text>
<text x="4.5" y="322.1" font-size="15" font-weight="bold" fill="#000">C</text>
<text x="216.4" y="525.6" font-size="9.6" font-weight="bold" text-anchor="middle" fill="#000">Top2 accuracy rate(%)</text>
<rect x="426.6" y="326.3" width="257.80" height="179.10" fill="#fff" stroke="#999" stroke-width="0.9"/>
<line x1="423.80" y1="338.35" x2="426.60" y2="338.35" stroke="#333" stroke-width="1"/>
<text x="421.40" y="341.95" font-size="9.65" font-weight="bold" text-anchor="end" fill="#4d4d4d">Lung(189)</text>
<g stroke="#666666" stroke-width="0.85" fill="none"><line x1="664.00" y1="337.25" x2="672.69" y2="337.25"/><line x1="664.00" y1="335.55" x2="664.00" y2="338.95"/><line x1="672.69" y1="335.55" x2="672.69" y2="338.95"/></g>
<circle cx="670.81" cy="337.45" r="1.5" fill="#666666"/>
<text x="672.61" y="336.25" font-size="9.6" text-anchor="middle" fill="#000">98.9</text>
<line x1="423.80" y1="355.89" x2="426.60" y2="355.89" stroke="#333" stroke-width="1"/>
<text x="421.40" y="359.49" font-size="9.65" font-weight="bold" text-anchor="end" fill="#4d4d4d">Colorectal(79)</text>
<g stroke="#3B4F8A" stroke-width="0.85" fill="none"><line x1="656.94" y1="354.79" x2="672.69" y2="354.79"/><line x1="656.94" y1="353.09" x2="656.94" y2="356.49"/><line x1="672.69" y1="353.09" x2="672.69" y2="356.49"/></g>
<circle cx="670.34" cy="354.99" r="1.5" fill="#3B4F8A"/>
<text x="672.14" y="353.79" font-size="9.6" text-anchor="middle" fill="#000">98.7</text>
<line x1="423.80" y1="373.43" x2="426.60" y2="373.43" stroke="#333" stroke-width="1"/>
<text x="421.40" y="377.03" font-size="9.65" font-weight="bold" text-anchor="end" fill="#4d4d4d">Liver(74)</text>
<g stroke="#E6AB02" stroke-width="0.85" fill="none"><line x1="655.53" y1="372.33" x2="672.93" y2="372.33"/><line x1="655.53" y1="370.63" x2="655.53" y2="374.03"/><line x1="672.93" y1="370.63" x2="672.93" y2="374.03"/></g>
<circle cx="670.11" cy="372.53" r="1.5" fill="#E6AB02"/>
<text x="671.91" y="371.33" font-size="9.6" text-anchor="middle" fill="#000">98.6</text>
<line x1="423.80" y1="390.97" x2="426.60" y2="390.97" stroke="#333" stroke-width="1"/>
<text x="421.40" y="394.57" font-size="9.65" font-weight="bold" text-anchor="end" fill="#4d4d4d">Lymphoma(37)</text>
<g stroke="#F7B4BC" stroke-width="0.85" fill="none"><line x1="623.09" y1="389.87" x2="666.58" y2="389.87"/><line x1="623.09" y1="388.17" x2="623.09" y2="391.57"/><line x1="666.58" y1="388.17" x2="666.58" y2="391.57"/></g>
<circle cx="654.36" cy="390.07" r="1.5" fill="#F7B4BC"/>
<text x="656.16" y="388.87" font-size="9.6" text-anchor="middle" fill="#000">91.9</text>
<line x1="423.80" y1="408.51" x2="426.60" y2="408.51" stroke="#333" stroke-width="1"/>
<text x="421.40" y="412.11" font-size="9.65" font-weight="bold" text-anchor="end" fill="#4d4d4d">Prostate(34)</text>
<g stroke="#7570B3" stroke-width="0.85" fill="none"><line x1="610.39" y1="407.41" x2="662.35" y2="407.41"/><line x1="610.39" y1="405.71" x2="610.39" y2="409.11"/><line x1="662.35" y1="405.71" x2="662.35" y2="409.11"/></g>
<circle cx="645.66" cy="407.61" r="1.5" fill="#7570B3"/>
<text x="647.46" y="406.41" font-size="9.6" text-anchor="middle" fill="#000">88.2</text>
<line x1="423.80" y1="426.05" x2="426.60" y2="426.05" stroke="#333" stroke-width="1"/>
<text x="421.40" y="429.65" font-size="9.65" font-weight="bold" text-anchor="end" fill="#4d4d4d">Endometrial(39)</text>
<g stroke="#66A61E" stroke-width="0.85" fill="none"><line x1="610.39" y1="424.95" x2="660.23" y2="424.95"/><line x1="610.39" y1="423.25" x2="610.39" y2="426.65"/><line x1="660.23" y1="423.25" x2="660.23" y2="426.65"/></g>
<circle cx="643.31" cy="425.15" r="1.5" fill="#66A61E"/>
<text x="645.11" y="423.95" font-size="9.6" text-anchor="middle" fill="#000">87.2</text>
<line x1="423.80" y1="443.59" x2="426.60" y2="443.59" stroke="#333" stroke-width="1"/>
<text x="421.40" y="447.19" font-size="9.65" font-weight="bold" text-anchor="end" fill="#4d4d4d">Breast(30)</text>
<g stroke="#A6761D" stroke-width="0.85" fill="none"><line x1="594.17" y1="442.49" x2="656.00" y2="442.49"/><line x1="594.17" y1="440.79" x2="594.17" y2="444.19"/><line x1="656.00" y1="440.79" x2="656.00" y2="444.19"/></g>
<circle cx="634.14" cy="442.69" r="1.5" fill="#A6761D"/>
<text x="635.94" y="441.49" font-size="9.6" text-anchor="middle" fill="#000">83.3</text>
<line x1="423.80" y1="461.13" x2="426.60" y2="461.13" stroke="#333" stroke-width="1"/>
<text x="421.40" y="464.93" font-size="10.25" font-weight="bold" text-anchor="end" fill="#4d4d4d">Esophageal(41)</text>
<g stroke="#E7298A" stroke-width="0.85" fill="none"><line x1="593.23" y1="460.03" x2="649.65" y2="460.03"/><line x1="593.23" y1="458.33" x2="593.23" y2="461.73"/><line x1="649.65" y1="458.33" x2="649.65" y2="461.73"/></g>
<circle cx="627.56" cy="460.23" r="1.5" fill="#E7298A"/>
<text x="629.36" y="459.03" font-size="9.6" text-anchor="middle" fill="#000">80.5</text>
<line x1="423.80" y1="478.67" x2="426.60" y2="478.67" stroke="#333" stroke-width="1"/>
<text x="421.40" y="482.27" font-size="9.65" font-weight="bold" text-anchor="end" fill="#4d4d4d">Pancreatic(30)</text>
<g stroke="#D95F02" stroke-width="0.85" fill="none"><line x1="577.01" y1="477.57" x2="645.19" y2="477.57"/><line x1="577.01" y1="475.87" x2="577.01" y2="479.27"/><line x1="645.19" y1="475.87" x2="645.19" y2="479.27"/></g>
<circle cx="618.62" cy="477.77" r="1.5" fill="#D95F02"/>
<text x="620.42" y="476.57" font-size="9.6" text-anchor="middle" fill="#000">76.7</text>
<line x1="423.80" y1="496.21" x2="426.60" y2="496.21" stroke="#333" stroke-width="1"/>
<text x="421.40" y="499.81" font-size="9.65" font-weight="bold" text-anchor="end" fill="#4d4d4d">Gastric(35)</text>
<g stroke="#1B9E77" stroke-width="0.85" fill="none"><line x1="546.92" y1="495.11" x2="618.62" y2="495.11"/><line x1="546.92" y1="493.41" x2="546.92" y2="496.81"/><line x1="618.62" y1="493.41" x2="618.62" y2="496.81"/></g>
<circle cx="586.18" cy="495.31" r="1.5" fill="#1B9E77"/>
<text x="587.98" y="494.11" font-size="9.6" text-anchor="middle" fill="#000">62.9</text>
<line x1="438.30" y1="505.40" x2="438.30" y2="508.20" stroke="#333" stroke-width="1"/>
<text x="438.30" y="516.00" font-size="8.9" font-weight="bold" text-anchor="middle" fill="#4d4d4d">0</text>
<line x1="497.07" y1="505.40" x2="497.07" y2="508.20" stroke="#333" stroke-width="1"/>
<text x="497.07" y="516.00" font-size="8.9" font-weight="bold" text-anchor="middle" fill="#4d4d4d">25</text>
<line x1="555.85" y1="505.40" x2="555.85" y2="508.20" stroke="#333" stroke-width="1"/>
<text x="555.85" y="516.00" font-size="8.9" font-weight="bold" text-anchor="middle" fill="#4d4d4d">50</text>
<line x1="614.62" y1="505.40" x2="614.62" y2="508.20" stroke="#333" stroke-width="1"/>
<text x="614.62" y="516.00" font-size="8.9" font-weight="bold" text-anchor="middle" fill="#4d4d4d">75</text>
<line x1="673.40" y1="505.40" x2="673.40" y2="508.20" stroke="#333" stroke-width="1"/>
<text x="673.40" y="516.00" font-size="8.9" font-weight="bold" text-anchor="middle" fill="#4d4d4d">100</text>
<text x="559.5" y="322.2" font-size="11.15" font-weight="bold" text-anchor="middle" fill="#000">Independent Validation</text>
<text x="351.7" y="322.1" font-size="15" font-weight="bold" fill="#000">D</text>
<text x="563.7" y="525.6" font-size="9.6" font-weight="bold" text-anchor="middle" fill="#000">Top2 accuracy rate(%)</text>
</svg>
</body></html>
